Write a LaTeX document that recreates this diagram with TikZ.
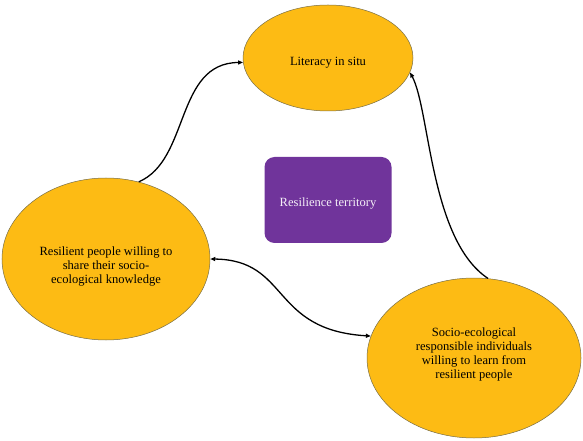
\documentclass[tikz,border=0pt]{standalone}
\usepackage{fontspec}
\setmainfont{Liberation Serif}
\usetikzlibrary{arrows.meta,shapes.geometric}
\definecolor{gold}{RGB}{253,187,20}
\definecolor{rim}{RGB}{120,110,70}
\definecolor{terr}{RGB}{112,52,155}
\begin{document}
\begin{tikzpicture}[x=1bp, y=-1bp,
    bubble/.style={ellipse, draw=rim, line width=0.5pt, fill=gold, inner sep=0pt,
        align=center, font=\fontsize{12.6}{14}\selectfont},
    link/.style={line width=1.3pt, -{Triangle[length=5pt,width=4pt]}}]
    \useasboundingbox (0,0) rectangle (583,441);

    \node[bubble, minimum width=170bp, minimum height=106bp, text height=15bp, text depth=0bp]
        (lit) at (328,58) {Literacy in situ};
    \node[bubble, minimum width=208bp, minimum height=162bp, text height=50bp, text depth=2bp]
        (res) at (106,259) {Resilient people willing to\\share their socio-\\ecological knowledge};
    \node[bubble, minimum width=214bp, minimum height=160bp, text height=44bp, text depth=3bp]
        (soc) at (474,358) {Socio-ecological\\responsible individuals\\willing to learn from\\resilient people};
    \node[rounded corners=10bp, fill=terr, text=white!92!terr, minimum width=127bp,
        minimum height=86bp, text height=14bp, text depth=0bp, font=\fontsize{12.6}{14}\selectfont]
        (terr) at (328,200) {Resilience territory};

    \draw[link] (res.67) .. controls (190,160) and (175,63) .. (lit.183);
    \draw[link] (soc.80) .. controls (430,240) and (430,110) .. (lit.-10);
    \draw[link, {Triangle[length=5pt,width=4pt]}-{Triangle[length=5pt,width=4pt]}]
        (res.east) .. controls (290,260) and (270,330) .. (soc.168);
\end{tikzpicture}
\end{document}
